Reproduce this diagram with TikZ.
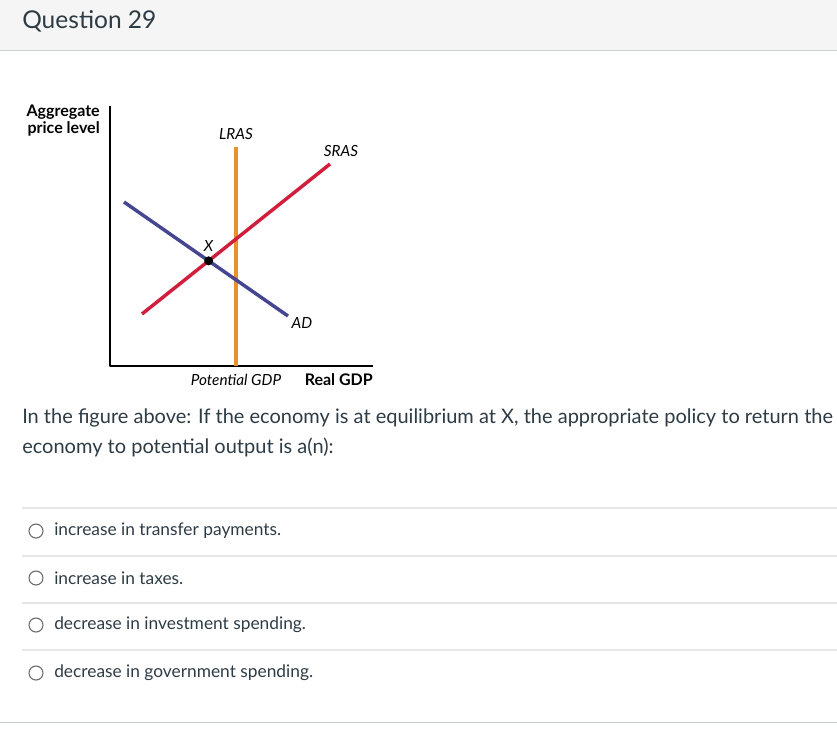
\documentclass[tikz,border=0pt]{standalone}
\usepackage{fontspec}
\setmainfont{Lato}
\usetikzlibrary{arrows,positioning}
\definecolor{qtext}{HTML}{2D3B45}
\definecolor{headbg}{HTML}{F5F5F5}
\definecolor{headrule}{HTML}{C7CDD1}
\definecolor{seprule}{HTML}{E4E6E8}
\definecolor{lrascol}{HTML}{E8912D}
\definecolor{srascol}{HTML}{D01E3C}
\definecolor{adcol}{HTML}{454591}
\tikzset{
  graphlbl/.style={font=\fontsize{11.5}{13}\selectfont\itshape,inner sep=0pt},
  axislbl/.style={font=\fontsize{12}{13}\selectfont\bfseries,inner sep=0pt},
  curve/.style={line width=2.6pt},
  optcircle/.style={draw=gray!80!black,line width=0.8pt,circle,minimum size=10.5pt,inner sep=0pt},
  opttext/.style={anchor=west,font=\fontsize{13}{15}\selectfont,text=qtext,inner sep=0pt}
}

\begin{document}
\begin{tikzpicture}[line cap=butt,line join=round,x=0.75pt,y=-0.75pt]
\useasboundingbox (0,0) rectangle (837,731);
% header
\fill[headbg] (0,0) rectangle (837,50);
\draw[headrule,line width=1pt] (0,50.5) -- (837,50.5);
\node[anchor=base west,inner sep=0pt,font=\fontsize{18.4}{22}\selectfont,text=qtext] (title) at (22,29) {Question 29};

% graph
\coordinate (ytop) at (110,106);
\coordinate (origin) at (110,366);
\coordinate (xend) at (373,366);
\draw[line width=1.1pt,color=black] (ytop) -- (origin) -- (xend);
\node[axislbl,align=right,anchor=north east] (ylabel) at (100,105) {Aggregate\\[-0.5pt]price level};
\node[axislbl,anchor=east] (xlabel) at (373,380) {Real GDP};

\coordinate (lrasTop) at (236,147);
\coordinate (lrasBot) at (236,366);
\coordinate (srasLow) at (142,314);
\coordinate (srasHigh) at (330,164);
\coordinate (adHigh) at (124,202);
\coordinate (adLow) at (288,316);
\draw[curve,color=lrascol] (lrasTop) -- (lrasBot);
\draw[curve,color=adcol] (adHigh) -- (adLow);
\draw[curve,color=srascol] (srasLow) -- (srasHigh);
\fill[black] (intersection of adHigh--adLow and srasLow--srasHigh) coordinate (eqX) circle (4.5);

\node[graphlbl] (lraslbl) at (236,134) {LRAS};
\node[graphlbl] (sraslbl) at (341,151) {SRAS};
\node[graphlbl] (adlbl) at (302,323) {AD};
\node[graphlbl,above=7pt of eqX] (xlbl) {X};
\node[graphlbl] (potlbl) at (236,380) {Potential GDP};

% question
\node[anchor=base west,inner sep=0pt,align=left,text=qtext,font=\fontsize{15}{22.5}\selectfont] (question) at (22,453)
  {In the figure above: If the economy is at equilibrium at X, the appropriate policy to return the\\
   economy to potential output is a(n):};

% answers
\draw[seprule,line width=0.8pt] (22,508) -- (837,508);
\node[optcircle] (c1) at (36,531) {};
\node[opttext] (a1) at (54,531) {increase in transfer payments.};
\draw[seprule,line width=0.8pt] (22,556) -- (837,556);
\node[optcircle] (c2) at (36,578) {};
\node[opttext] (a2) at (54,578) {increase in taxes.};
\draw[seprule,line width=0.8pt] (22,603) -- (837,603);
\node[optcircle] (c3) at (36,625) {};
\node[opttext] (a3) at (54,625) {decrease in investment spending.};
\draw[seprule,line width=0.8pt] (22,650) -- (837,650);
\node[optcircle] (c4) at (36,673) {};
\node[opttext] (a4) at (54,673) {decrease in government spending.};

\draw[headrule,line width=1.1pt] (0,722.5) -- (837,722.5);
\end{tikzpicture}
\end{document}
